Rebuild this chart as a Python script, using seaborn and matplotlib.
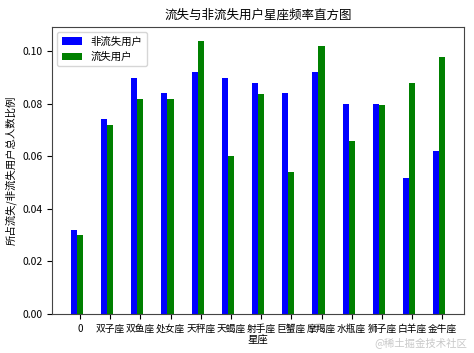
# grouped bar chart: constellation share of churned vs non-churned users

import numpy as np
import matplotlib
matplotlib.use("Agg")
import matplotlib.pyplot as plt
import seaborn as sns

constellations = ["0", "双子座", "双鱼座", "处女座", "天秤座", "天蝎座", "射手座",
                  "巨蟹座", "摩羯座", "水瓶座", "狮子座", "白羊座", "金牛座"]
non_churn = [0.0319, 0.0742, 0.0899, 0.0839, 0.0920, 0.0899, 0.0879,
             0.0839, 0.0920, 0.0799, 0.0799, 0.0519, 0.0619]
churn = [0.0300, 0.0719, 0.0817, 0.0817, 0.1038, 0.0600, 0.0837,
         0.0539, 0.1018, 0.0658, 0.0796, 0.0880, 0.0977]

plt.rcParams["font.family"] = ["Noto Sans CJK SC", "DejaVu Sans"]
plt.rcParams["axes.unicode_minus"] = False

fig = plt.figure(figsize=(4.74, 3.53), dpi=100)
ax = fig.add_axes([0.110, 0.1105, 0.869, 0.813])

pos = np.arange(len(constellations))

sns.barplot(x=pos - 0.2, y=non_churn, native_scale=True, width=0.2,
            color="blue", saturation=1, label="非流失用户", ax=ax)
sns.barplot(x=pos, y=churn, native_scale=True, width=0.2,
            color="green", saturation=1, label="流失用户", ax=ax)

ax.set_xlim(-0.92, 12.72)
ax.set_ylim(0, 0.1092)
ax.set_xticks(pos)
ax.set_xticklabels(constellations, fontsize=7)
ax.set_yticks([0, 0.02, 0.04, 0.06, 0.08, 0.10])
ax.set_yticklabels(["0.00", "0.02", "0.04", "0.06", "0.08", "0.10"], fontsize=7.5)
ax.set_xlabel("星座", fontsize=7.5, labelpad=1)
ax.set_ylabel("所占流失/非流失用户总人数比例", fontsize=7.5)
ax.set_title("流失与非流失用户星座频率直方图", fontsize=9)
for s in ax.spines.values():
    s.set_color("#444444")
ax.legend(loc="upper left", fontsize=7.5)

fig.text(0.985, 0.015, "@稀土掘金技术社区", ha="right", va="bottom",
         fontsize=7.5, color="#c8c8c8")

fig.savefig("out.png", dpi=100)
